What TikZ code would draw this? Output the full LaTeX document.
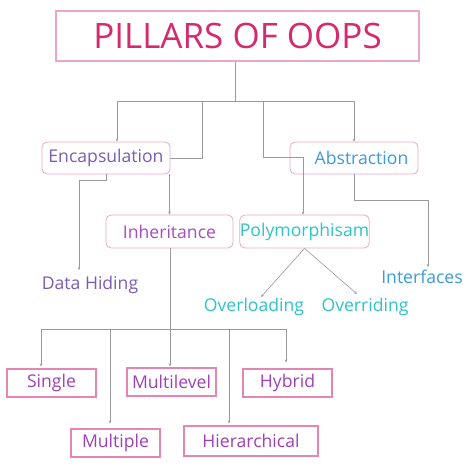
\documentclass[tikz,border=0pt]{standalone}
\usepackage{fontspec}
\setmainfont{Open Sans}
\usetikzlibrary{arrows.meta}
\definecolor{titlecol}{HTML}{D42A6E}
\definecolor{boxpink}{HTML}{EDA6C8}
\definecolor{leafpink}{HTML}{E684B2}
\definecolor{encol}{HTML}{7B5CB5}
\definecolor{inhcol}{HTML}{A64DBF}
\definecolor{abscol}{HTML}{3C9BDB}
\definecolor{polycol}{HTML}{2EC4C8}
\definecolor{leafcol}{HTML}{A040B8}
\definecolor{linecol}{HTML}{9A9A9A}
\tikzset{
  titlebox/.style={draw=boxpink, line width=1.2pt, minimum width=363pt, minimum height=50pt, inner sep=0pt, text=titlecol, font=\fontsize{35}{38}\selectfont},
  mainbox/.style={draw=boxpink, line width=0.8pt, rounded corners=5pt, minimum width=128pt, minimum height=32pt, inner sep=0pt, font=\fontsize{17.6}{20}\selectfont},
  leafbox/.style={draw=leafpink, line width=1.1pt, minimum width=89pt, minimum height=28pt, inner sep=0pt, text=leafcol, font=\fontsize{17.6}{20}\selectfont},
  plain/.style={inner sep=0pt, font=\fontsize{17.6}{20}\selectfont},
  conn/.style={draw=linecol, line width=0.6pt},
  arr/.style={conn, -{Stealth[length=3pt,width=2.6pt]}}
}
\begin{document}
\begin{tikzpicture}[x=1pt,y=-1pt]
\useasboundingbox[fill=white] (0,0) rectangle (474,467);
% nodes
\node[titlebox] (title) at (237.5,36) {PILLARS OF OOPS};
\node[mainbox, text=encol] (enc) at (106,158) {Encapsulation};
\node[mainbox, text=abscol] (abs) at (354,158) {\hspace*{15pt}Abstraction};
\node[mainbox, text=inhcol, minimum width=127pt, minimum height=33pt] (inh) at (169.5,231.5) {Inheritance};
\node[mainbox, text=polycol, minimum width=127pt, minimum height=33pt] (poly) at (304.5,231.5) {Polymorphisam};
\node[plain, text=encol] (dh) at (90,285) {Data Hiding};
\node[plain, text=abscol] (itf) at (422,277) {Interfaces};
\node[plain, text=polycol] (ovl) at (254,307) {Overloading};
\node[plain, text=polycol] (ovr) at (365,307) {Overriding};
\node[leafbox] (sg) at (51.5,383) {Single};
\node[leafbox] (ml) at (171.5,382) {Multilevel};
\node[leafbox] (hy) at (287.5,383) {Hybrid};
\node[leafbox] (mp) at (115.5,443) {Multiple};
\node[leafbox, minimum width=134pt, minimum height=30pt] (hi) at (251,441) {Hierarchical};
% hubs
\coordinate (hub) at (235,101);
\coordinate (hA) at (202,101);
\coordinate (hB) at (263,101);
\coordinate (hub2) at (170,329);
% connectors
\draw[conn] ([xshift=-2.5pt]title.south) -- (hub);
\draw[arr] (hub) -| ([xshift=11pt]enc.north);
\draw[arr] (hub) -| (abs.north);
\draw[conn] (hA) |- (enc.east);
\draw[arr] (hB) |- ([xshift=-1.5pt,yshift=1pt]poly.north |- abs.west) -- ([xshift=-1.5pt]poly.north);
\draw[arr] (inh.north |- enc.south) -- (inh.north);
\draw[arr] (enc.south) -- ++(0,6) -| ([xshift=-11pt,yshift=15pt]dh.center);
\draw[arr] (abs.south) -- ++(0,26) -| ([xshift=6pt,yshift=10pt]itf.center);
\draw[arr] (poly.south) -- ([xshift=7pt,yshift=10pt]ovl.center);
\draw[arr] (poly.south) -- ([xshift=-8pt,yshift=13pt]ovr.center);
\draw[conn] ([xshift=0.5pt]inh.south) -- (hub2);
\draw[arr] (hub2) -| ([xshift=-10.5pt,yshift=2pt]sg.north);
\draw[arr] (hub2) -| ([xshift=-5.5pt,yshift=5pt]mp.north);
\draw[arr] (hub2) -- ([xshift=-1.5pt,yshift=1pt]ml.north);
\draw[arr] (hub2) -| ([xshift=-22pt,yshift=2pt]hi.north);
\draw[arr] (hub2) -| ([xshift=-1.5pt,yshift=6pt]hy.north);
\end{tikzpicture}
\end{document}
